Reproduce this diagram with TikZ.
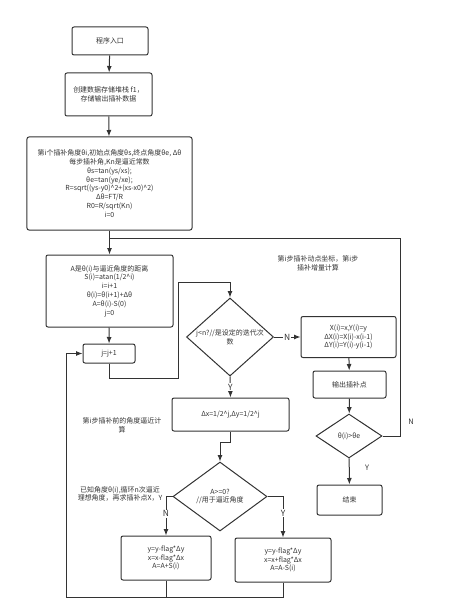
\documentclass[tikz,border=0pt]{standalone}
\usepackage{fontspec}
\usepackage{tikz}
\usetikzlibrary{arrows.meta, shapes.geometric, positioning}
\newfontfamily\cjk{Noto Sans CJK SC}
\definecolor{ink}{HTML}{333333}

\begin{document}
\begin{tikzpicture}[
    x=1bp, y=-1bp,
    every node/.style={font=\cjk\fontsize{7}{8.8}\selectfont, text=ink},
    proc/.style={draw=ink, line width=1bp, rounded corners=2bp, align=center, inner sep=0pt},
    decide/.style={diamond, draw=ink, line width=1bp, inner sep=0pt},
    note/.style={align=center, inner sep=0pt},
    yn/.style={fill=white, inner sep=1bp, font=\cjk\fontsize{8.5}{9}\selectfont},
    tag/.style={inner sep=0pt, font=\cjk\fontsize{7.5}{8}\selectfont},
    flow/.style={draw=ink, line width=1bp, -{Latex[length=6.5bp,width=5bp]}},
    line/.style={draw=ink, line width=1bp},
]
\useasboundingbox (0,0) rectangle (474,615);

\node[proc, minimum width=76bp, minimum height=28bp] (start) at (110,41) {程序入口};
\node[proc, minimum width=87bp, minimum height=43bp] (stack) at (108.5,94.5)
    {创建数据存储堆栈 f1，\\存储输出插补数据};
\node[proc, minimum width=165bp, minimum height=93bp] (init) at (109.5,183.5)
    {第i个插补角度θi,初始点角度θs,终点角度θe, Δθ\\每步插补角,Kn是逼近常数\\θs=tan(ys/xs);\\θe=tan(ye/xe);\\
     R=sqrt((ys-y0)\textasciicircum2+(xs-x0)\textasciicircum2)\\Δθ=FT/R\\R0=R/sqrt(Kn)\\i=0};
\node[proc, minimum width=127bp, minimum height=72bp] (angle) at (109.5,291)
    {A是θ(i)与逼近角度的距离\\S(i)=atan(1/2\textasciicircum i)\\i=i+1\\θ(i)=θ(i+1)+Δθ\\A=θ(i)-S(0)\\j=0};
\node[proc, minimum width=52bp, minimum height=19bp] (jinc) at (109,353.5) {j=j+1};

\node[decide, minimum width=87bp, minimum height=78bp] (iter) at (230,337) {};
\node[note] (itertxt) at (iter) {j<n?//是设定的迭代次\\数};
\node[proc, minimum width=95bp, minimum height=41bp] (delta) at (348.5,337)
    {X(i)=x,Y(i)=y\\ΔX(i)=X(i)-x(i-1)\\ΔY(i)=Y(i)-y(i-1)};
\node[proc, minimum width=73bp, minimum height=27bp] (output) at (349.5,384.5) {输出插补点};
\node[decide, minimum width=66bp, minimum height=44bp] (check) at (349,436) {};
\node[note] (checktxt) at (check) {θ(i)>θe};
\node[proc, minimum width=65bp, minimum height=30bp] (finish) at (349.5,500) {结束};

\node[proc, minimum width=117bp, minimum height=33bp] (step) at (230.5,414.5)
    {Δx=1/2\textasciicircum j,Δy=1/2\textasciicircum j};
\node[decide, minimum width=94bp, minimum height=69bp] (sign) at (220,496.5) {};
\node[note] (signtxt) at (sign) {A>=0?\\//用于逼近角度};
\node[proc, minimum width=90bp, minimum height=44bp] (neg) at (166,558)
    {y=y-flag*Δy\\x=x-flag*Δx\\A=A+S(i)};
\node[proc, minimum width=96bp, minimum height=44bp] (pos) at (283,560)
    {y=y-flag*Δy\\x=x+flag*Δx\\A=A-S(i)};

\node[note] (note1) at (318,263) {第i步插补动点坐标，第i步\\插补增量计算};
\node[note] (note2) at (122,425) {第i步插补前的角度逼近计\\算};
\node[note] (note3) at (120,494) {已知角度θ(i),循环n次逼近\\理想角度，再求插补点X，Y};

\coordinate (up) at (178,282);
\coordinate (loop) at (400,238);
\coordinate (join) at (109.5,238);
\coordinate (bottom) at (66,597);

\draw[flow] (start) -- (stack);
\draw[flow] (stack) -- (init);
\draw[flow] (init) -- (angle);
\draw[flow] (angle) -- (jinc);
\draw[flow] (jinc.south) -- ++(0,15) -| (up) -| (iter.north);
\draw[flow] (iter.east) -- node[yn]{N} (delta.west);
\draw[flow] (delta) -- (output);
\draw[flow] (output) -- (check);
\draw[flow] (check) -- (finish);
\node[tag] (ylab) at (367,468) {Y};
\draw[line] (check.east) -| (loop) -- (join);
\node[tag] (nlab) at (411,422) {N};
\draw[flow] (iter.south) -- node[yn]{Y} (step.north);
\draw[flow] (step.south) -- ++(0,11) -| (sign.north);
\draw[flow] (sign.west) -| node[yn, pos=0.72]{N} (neg.north);
\draw[flow] (sign.east) -| node[yn, pos=0.7]{Y} (pos.north);
\draw[line] (neg.south) -- (neg.south |- bottom);
\draw[flow] (pos.south) |- (bottom) |- (jinc.west);
\end{tikzpicture}
\end{document}
